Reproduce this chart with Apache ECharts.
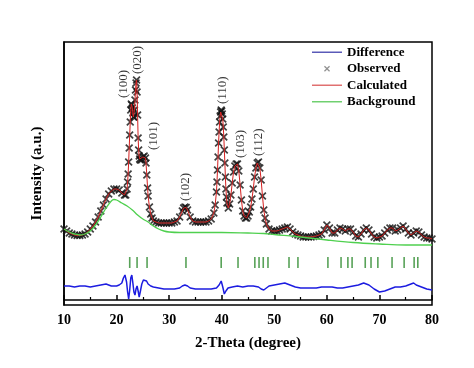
<!DOCTYPE html>
<html><head><meta charset="utf-8">
<script src="https://cdn.jsdelivr.net/npm/echarts@6/dist/echarts.min.js"></script>
<style>html,body{margin:0;padding:0;background:#fff}#c{width:474px;height:368px}</style>
</head><body><div id="c"></div>
<script>
// ---- data (2-theta in degrees, intensity in arbitrary units) ----
const obsTheta = [10.0,10.5,11.0,11.5,12.0,12.5,13.0,13.5,14.0,14.5,15.0,15.5,16.0,16.5,17.0,17.5,18.0,18.5,19.0,19.5,20.0,20.5,21.0,21.5,21.75,
  22.0,22.1,22.2,22.3,22.4,22.5,22.6,22.7,22.8,22.9,23.0,23.1,23.2,23.3,23.4,23.5,23.6,23.7,23.8,23.9,24.0,24.1,24.2,24.3,24.4,24.5,24.75,
  25.0,25.25,25.5,25.6,25.75,25.9,26.0,26.25,26.5,26.75,27.0,27.5,28.0,28.5,29.0,29.5,30.0,30.5,31.0,31.5,32.0,32.5,32.75,33.0,33.25,33.5,
  34.0,34.5,35.0,35.5,36.0,36.5,37.0,37.5,38.0,38.5,38.75,39.0,39.1,39.2,39.3,39.4,39.5,39.6,39.7,39.8,39.9,40.0,40.1,40.2,40.3,40.4,40.5,
  40.6,40.7,40.8,40.9,41.0,41.25,41.5,41.75,42.0,42.25,42.5,42.75,43.0,43.25,43.5,43.75,44.0,44.25,44.5,44.75,45.0,45.25,45.5,45.75,46.0,
  46.25,46.5,46.75,47.0,47.25,47.5,47.75,48.0,48.25,48.5,49.0,49.5,50.0,50.5,51.0,51.5,52.0,52.5,53.0,53.5,54.0,54.5,55.0,55.5,56.0,56.5,
  57.0,57.5,58.0,58.5,59.0,59.5,60.0,60.5,61.0,61.5,62.0,62.5,63.0,63.5,64.0,64.5,65.0,65.5,66.0,66.5,67.0,67.5,68.0,68.5,69.0,69.5,70.0,
  70.5,71.0,71.5,72.0,72.5,73.0,73.5,74.0,74.5,75.0,75.5,76.0,76.5,77.0,77.5,78.0,78.5,79.0,79.5,80.0];
const obsIntensity = [1420,1380,1340,1320,1300,1290,1290,1300,1320,1360,1420,1480,1560,1660,1780,1900,2020,2120,2180,2220,2220,2200,2140,2100,2100,
  2220,2360,2520,2760,3040,3300,3560,3800,3920,3900,3840,3740,3660,3660,3800,4000,4200,4340,4400,4160,3700,3240,3000,2880,2820,2800,2800,
  2860,2880,2840,2740,2500,2240,2080,1860,1720,1640,1580,1560,1540,1540,1540,1540,1540,1540,1560,1580,1660,1780,1840,1860,1850,1800,
  1660,1580,1560,1560,1560,1560,1560,1580,1620,1740,1900,2160,2360,2600,2860,3140,3360,3560,3680,3760,3800,3780,3720,3620,3460,3260,3000,
  2740,2460,2220,2060,1940,1840,1920,2100,2340,2560,2680,2720,2720,2580,2300,2000,1780,1680,1640,1640,1680,1760,1860,2020,2220,
  2460,2640,2740,2760,2640,2400,2080,1800,1640,1520,1420,1380,1380,1380,1400,1420,1440,1460,1420,1360,1320,1300,1280,1260,1260,1260,
  1260,1270,1280,1300,1320,1400,1500,1440,1340,1340,1400,1440,1420,1380,1420,1420,1360,1280,1260,1320,1400,1440,1400,1320,1260,1240,1260,
  1280,1340,1400,1440,1440,1380,1400,1440,1480,1420,1340,1300,1340,1380,1360,1300,1260,1240,1240,1220];

const bgTheta = [10,11,12,13,14,15,16,17,18,19,19.5,20,21,22,23,24,25,26,27,28,29,30,32,35,40,45,48,50,55,60,65,70,75,80];
const bgIntensity = [1420,1360,1320,1300,1320,1380,1500,1660,1840,1980,2010,2000,1940,1880,1800,1700,1620,1560,1480,1420,1380,1360,1350,1350,1350,1340,1330,1310,1260,1200,1150,1120,1100,1100];

const diffTheta = [10,11,12,13,14,15,16,17,18,18.5,19,20,20.5,21,21.3,21.6,21.9,22.1,22.3,22.5,22.7,22.9,23.1,23.3,23.5,23.7,23.9,24.1,24.3,24.5,
  24.8,25.1,25.4,25.7,26.0,26.5,27,28,29,30,31,32,32.5,33,33.5,34,35,36,37,38,39,39.5,39.9,40.2,40.5,40.8,41.2,42,43,44,45,46,47,47.5,48,
  49,50,51,52,53,54,55,56,57,58,59,60,61,62,63,64,65,66,67,68,69,70,71,72,73,74,75,76,76.5,77,78,79,80];
const diffValues = [20,20,0,20,20,0,20,40,60,40,20,20,40,80,180,240,100,-100,-240,-60,180,240,80,-100,-160,-40,20,-80,-200,-100,
  60,140,160,120,60,20,0,-20,-40,-40,-40,-20,20,40,20,-20,-40,-40,-40,-40,-20,40,120,0,-140,-80,-20,0,20,0,20,20,0,-40,-60,
  20,40,60,80,40,0,-20,-20,-20,-20,0,0,0,-20,-20,0,20,40,80,40,-40,-100,-80,-40,0,0,20,60,80,40,0,-40,-60];

const reflections = [22.5,23.9,25.8,33.2,39.9,43.1,46.3,47.1,47.9,48.8,52.8,54.5,60.2,62.7,64.0,64.8,67.3,68.4,69.7,72.4,74.7,76.6,77.3];

const hklLabels = ['(100)','(020)','(101)','(102)','(110)','(103)','(112)'];
const hklTheta = [22.5,23.9,25.8,33.2,39.9,43.1,47.1];
const hklPeak = [3920,4400,2880,1860,3800,2720,2760];

const xTicks = [10,20,30,40,50,60,70,80];
const legendNames = ['Difference','Observed','Calculated','Background'];

// ---- layout / style constants ----
const diffOffset = 260;     // difference curve plotted with a baseline offset
const tickLevel = 750;      // vertical level of the reflection markers
const hklDx = [-6,1,7,0,1,3,0]; // label nudges in px
const serif = 'Liberation Serif, Times New Roman, serif';
const crossPath = 'path://M0,1.5L1.5,0L5,3.5L8.5,0L10,1.5L6.5,5L10,8.5L8.5,10L5,6.5L1.5,10L0,8.5L3.5,5Z';
const linePath = 'path://M0,0L40,0L40,2L0,2Z';

const zip = (a, b) => a.map((v, i) => [v, b[i]]);
const observed = zip(obsTheta, obsIntensity);

const chart = echarts.init(document.getElementById('c'), null, {renderer: 'canvas'});
chart.setOption({
  animation: false,
  backgroundColor: '#fff',
  grid: {left: 64, right: 42, top: 42, bottom: 63, show: true, borderColor: '#000', borderWidth: 1.5, backgroundColor: 'transparent'},
  legend: {
    data: [
      {name: legendNames[0], icon: linePath, itemStyle: {color: '#5a5ab8'}},
      {name: legendNames[1], icon: crossPath, itemStyle: {color: '#777'}},
      {name: legendNames[2], icon: linePath, itemStyle: {color: '#e07070'}},
      {name: legendNames[3], icon: linePath, itemStyle: {color: '#70d070'}}
    ],
    orient: 'vertical', left: 312, top: 44, padding: 0, itemWidth: 30, itemHeight: 6, itemGap: 0,
    symbolKeepAspect: true,
    textStyle: {fontFamily: serif, fontWeight: 'bold', fontSize: 13, color: '#000', lineHeight: 16.5},
    selectedMode: false
  },
  xAxis: {
    type: 'value', min: xTicks[0], max: xTicks[xTicks.length - 1], interval: 10,
    name: '2-Theta (degree)', nameLocation: 'middle', nameGap: 31,
    nameTextStyle: {fontFamily: serif, fontWeight: 'bold', fontSize: 15, color: '#000'},
    axisLine: {lineStyle: {color: '#000', width: 1.5}},
    axisTick: {inside: true, length: 5, lineStyle: {color: '#000', width: 1.5}},
    minorTick: {show: true, splitNumber: 2, length: 3, lineStyle: {color: '#000', width: 1.2}},
    axisLabel: {fontFamily: serif, fontWeight: 'bold', fontSize: 14, color: '#000', margin: 8},
    splitLine: {show: false}
  },
  yAxis: {
    type: 'value', min: -100, max: 5160,
    name: 'Intensity (a.u.)', nameLocation: 'middle', nameGap: 19, nameRotate: 90,
    nameTextStyle: {fontFamily: serif, fontWeight: 'bold', fontSize: 15, color: '#000'},
    axisLine: {show: true, lineStyle: {color: '#000', width: 1.5}},
    axisTick: {show: false}, axisLabel: {show: false}, splitLine: {show: false}
  },
  series: [
    {
      name: 'Observed', type: 'scatter', data: observed, symbol: crossPath, symbolSize: 8,
      itemStyle: {color: '#111'}, z: 2
    },
    {
      name: 'Calculated', type: 'line', data: observed, symbol: 'none',
      lineStyle: {color: '#d42020', width: 1}, itemStyle: {color: '#d42020'}, z: 3
    },
    {
      name: 'Background', type: 'line', data: zip(bgTheta, bgIntensity), symbol: 'none', smooth: 0.4,
      lineStyle: {color: '#4fd04f', width: 1.3}, itemStyle: {color: '#4fd04f'}, z: 4
    },
    {
      name: 'Difference', type: 'line', data: diffTheta.map((t, i) => [t, diffValues[i] + diffOffset]), symbol: 'none',
      lineStyle: {color: '#1c1ce0', width: 1.5}, itemStyle: {color: '#1c1ce0'}, z: 4
    },
    {
      name: 'Reflections', type: 'scatter', data: reflections.map(t => [t, tickLevel]),
      symbol: 'rect', symbolSize: [1.6, 11], itemStyle: {color: '#2e8b2e'}, z: 4
    },
    {
      name: 'hkl', type: 'scatter', symbolSize: 1, itemStyle: {color: 'transparent'}, z: 5,
      data: hklLabels.map((n, i) => ({
        name: n, value: [hklTheta[i], hklPeak[i]],
        label: {offset: [6, hklDx[i]]}
      })),
      label: {
        show: true, formatter: p => p.name, position: 'inside', rotate: 90,
        align: 'left', verticalAlign: 'middle',
        fontFamily: serif, fontSize: 13, color: '#000'
      }
    }
  ]
});
</script>
</body></html>
